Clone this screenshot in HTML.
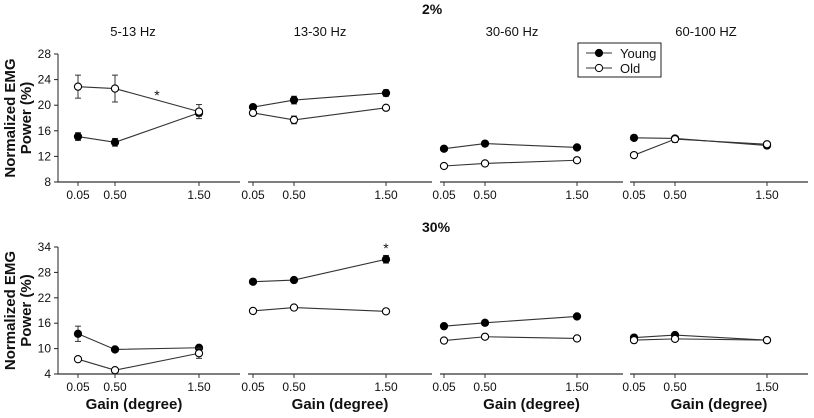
<!DOCTYPE html>
<html><head><meta charset="utf-8"><style>
body{margin:0;background:#fff}
svg text{font-family:"Liberation Sans",Arial,sans-serif;fill:#111}
</style></head><body>
<svg id="chart" width="814" height="413" viewBox="0 0 814 413" xmlns="http://www.w3.org/2000/svg"></svg>
<script>
const gains = [0.05, 0.50, 1.50];
const gainLabels = ["0.05", "0.50", "1.50"];
const bands = ["5-13 Hz", "13-30 Hz", "30-60 Hz", "60-100 HZ"];
const topTicks = [8, 12, 16, 20, 24, 28];
const botTicks = [4, 10, 16, 22, 28, 34];
// 2% condition
const youngTop = [[15.1,14.2,18.8],[19.7,20.8,21.9],[13.2,14.0,13.4],[14.9,14.8,13.7]];
const youngTopErr = [[0.6,0.6,0.5],[0.3,0.6,0.5],[0.2,0.2,0.2],[0.2,0.2,0.2]];
const oldTop = [[22.9,22.6,19.0],[18.8,17.7,19.6],[10.5,10.9,11.4],[12.2,14.7,13.9]];
const oldTopErr = [[1.8,2.1,1.1],[0.3,0.6,0.3],[0.2,0.2,0.2],[0.3,0.5,0.3]];
// 30% condition
const youngBot = [[13.5,9.8,10.2],[25.8,26.2,31.1],[15.3,16.1,17.6],[12.6,13.2,12.0]];
const youngBotErr = [[1.8,0.5,0.4],[0.4,0.4,0.9],[0.3,0.3,0.3],[0.3,0.3,0.3]];
const oldBot = [[7.5,4.9,8.9],[18.9,19.7,18.8],[11.9,12.8,12.4],[12.0,12.3,12.0]];
const oldBotErr = [[0.3,0.3,1.2],[0.3,0.3,0.3],[0.3,0.3,0.3],[0.3,0.3,0.3]];

const svg = document.getElementById('chart');
const NS = 'http://www.w3.org/2000/svg';
function mk(tag, attrs, parent){const e=document.createElementNS(NS,tag);for(const k in attrs)e.setAttribute(k,attrs[k]);(parent||svg).appendChild(e);return e;}
function txt(x,y,s,attrs){const e=mk('text',Object.assign({x:x,y:y},attrs||{}));e.textContent=s;return e;}

const panelX = [[58,240],[248,432],[440,623],[630,808]];
const catX = [[78,115,199],[253,294,386],[444,485,577],[634,675,767]];
function xPos(p,i){return catX[p][i];}
const rows = [
 {y0:182,y1:54,lo:8,hi:28,ticks:topTicks,young:youngTop,ye:youngTopErr,old:oldTop,oe:oldTopErr,tickY:199,name:'top'},
 {y0:374,y1:247,lo:4,hi:34,ticks:botTicks,young:youngBot,ye:youngBotErr,old:oldBot,oe:oldBotErr,tickY:391,name:'bottom'}
];
rows.forEach((r,ri)=>{
  const ys=v=>r.y0-(v-r.lo)/(r.hi-r.lo)*(r.y0-r.y1);
  const ya=mk('line',{x1:58,y1:r.y1,x2:58,y2:r.y0,stroke:'#222','stroke-width':1});
  
  
  r.ticks.forEach(t=>{
    mk('line',{x1:54,x2:58,y1:ys(t),y2:ys(t),stroke:'#222'});
    const tl=txt(51,ys(t)+4,String(t),{'font-size':12,'text-anchor':'end'});
    
    
  });
  const cy=(r.y0+r.y1)/2;
  const t1=txt(0,0,'Normalized EMG',{'font-size':15,'font-weight':'bold','text-anchor':'middle',transform:`translate(15,${cy}) rotate(-90)`});
  
  
  const t2=txt(0,0,'Power (%)',{'font-size':15,'font-weight':'bold','text-anchor':'middle',transform:`translate(31,${cy}) rotate(-90)`});
  
  
  for(let p=0;p<4;p++){
    const xa=mk('line',{x1:panelX[p][0],x2:panelX[p][1],y1:r.y0,y2:r.y0,stroke:'#333','stroke-width':1.2});
    
    
    gains.forEach((g,i)=>{
      const x=xPos(p,i);
      mk('line',{x1:x,x2:x,y1:r.y0,y2:r.y0+4,stroke:'#333'});
      const l=txt(x,r.tickY,gainLabels[i],{'font-size':12,'text-anchor':'middle'});
      
      
    });
    if(ri===1){
      const gt=txt((panelX[p][0]+panelX[p][1])/2+(p===0?-15:0),409,'Gain (degree)',{'font-size':15,'font-weight':'bold','text-anchor':'middle'});
      
      
    }
    [['young',r.young[p],r.ye[p],'#000'],['old',r.old[p],r.oe[p],'#fff']].forEach(([nm,vals,errs,fill])=>{
      const pts=vals.map((v,i)=>xPos(p,i)+','+ys(v)).join(' ');
      const pl=mk('polyline',{points:pts,fill:'none',stroke:'#333','stroke-width':1.1});
      
      
      vals.forEach((v,i)=>{
        const x=xPos(p,i);
        mk('line',{x1:x,x2:x,y1:ys(v+errs[i]),y2:ys(v-errs[i]),stroke:'#333'});
        mk('line',{x1:x-3,x2:x+3,y1:ys(v+errs[i]),y2:ys(v+errs[i]),stroke:'#333'});
        mk('line',{x1:x-3,x2:x+3,y1:ys(v-errs[i]),y2:ys(v-errs[i]),stroke:'#333'});
        const c=mk('circle',{cx:x,cy:ys(v),r:3.6,fill:fill,stroke:'#000','stroke-width':1.1});
        
        
      });
    });
  }
});
const bcx=[133,320,512,706];
bands.forEach((b,i)=>{const t=txt(bcx[i],36,b,{'font-size':13,'text-anchor':'middle'});
 
 });
const c2=txt(422,14,'2%',{'font-size':14,'font-weight':'bold'});


const c30=txt(422,232,'30%',{'font-size':14,'font-weight':'bold'});


const s1=txt(157,100,'*',{'font-size':14,'text-anchor':'middle'});


const s2=txt(386,253,'*',{'font-size':14,'text-anchor':'middle'});


const lg=mk('g',{});


mk('rect',{x:578,y:43,width:83,height:34,fill:'#fff',stroke:'#222'},lg);
mk('line',{x1:586,x2:612,y1:53,y2:53,stroke:'#333'},lg);
mk('circle',{cx:599,cy:53,r:3.6,fill:'#000',stroke:'#000'},lg);
const ly=txt(620,58,'Young',{'font-size':13});lg.appendChild(ly);


mk('line',{x1:586,x2:612,y1:68,y2:68,stroke:'#333'},lg);
mk('circle',{cx:599,cy:68,r:3.6,fill:'#fff',stroke:'#000'},lg);
const lo=txt(620,73,'Old',{'font-size':13});lg.appendChild(lo);


</script>
</body></html>
